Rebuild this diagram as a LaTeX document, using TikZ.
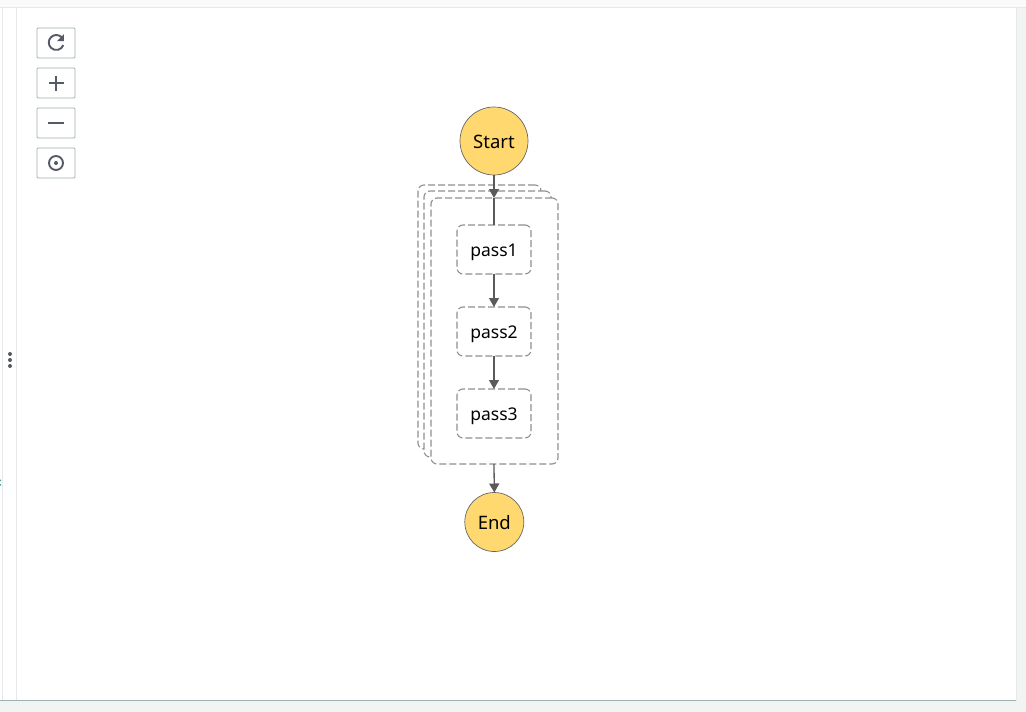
\documentclass[tikz,border=0pt]{standalone}
\usepackage{fontspec}
\setmainfont{Noto Sans}
\usetikzlibrary{arrows.meta}
\definecolor{gold}{HTML}{FFD970}
\definecolor{icon}{HTML}{545B64}
\definecolor{btn}{HTML}{9FB0B1}
\definecolor{dashc}{HTML}{8F8F8F}
\definecolor{wire}{HTML}{5A5A5A}
\definecolor{pane}{HTML}{F2F3F3}
\definecolor{topband}{HTML}{FAFAFA}
\definecolor{rule}{HTML}{E6E9EA}
\definecolor{speck}{HTML}{4F9A94}
\newcommand{\lowered}[2]{\raisebox{-#1}[\height][\depth]{#2}}
\tikzset{
  every node/.style={inner sep=0pt,outer sep=0pt},
  terminal/.style={circle,draw=black!60,line width=.7pt,fill=gold,font=\fontsize{18.5}{20}\selectfont,text=black},
  statebox/.style={rectangle,rounded corners=6pt,draw=dashc,line width=1.1pt,dash pattern=on 7pt off 3pt,fill=white,minimum width=74pt,minimum height=49pt,font=\fontsize{17.5}{20}\selectfont,text=black},
  groupbox/.style={rectangle,rounded corners=6pt,draw=dashc,line width=1.1pt,dash pattern=on 7pt off 3pt,fill=white},
  toolbtn/.style={rectangle,rounded corners=1pt,draw=btn,line width=.9pt,fill=white,minimum width=38pt,minimum height=30pt},
  wirearrow/.style={draw=wire,line width=1.3pt,-{Triangle[length=9pt,width=10pt]}},
  wireplain/.style={draw=wire,line width=1.3pt},
  iconline/.style={draw=icon,line width=1.9pt}
}
\begin{document}
\begin{tikzpicture}[x=1pt,y=-1pt]
\useasboundingbox (0,0) rectangle (1026,712);
% window panes
\fill[pane] (0,0) rectangle (1026,712);
\fill[topband] (0,0) rectangle (1026,7);
\fill[white] (0,8) rectangle (1016,700);
\fill[rule] (0,7) rectangle (1026,8);
\fill[rule] (2,8) rectangle (3,700);
\fill[rule] (16,8) rectangle (17,700);
\fill[rule] (1016,8) rectangle (1017,701);
\fill[btn] (0,700) rectangle (1016,701.3);
\fill[speck] (0,479.5) rectangle (1,481) (0,484) rectangle (1,485.5);
% toolbar
\node[toolbtn] (reset) at (56,43) {};
\node[toolbtn] (plus) at (56,83) {};
\node[toolbtn] (minus) at (56,123) {};
\node[toolbtn] (center) at (56,163) {};
\draw[iconline] (61.6,37.2) arc (-45:-340:7.5);
\fill[icon] (63.8,34.4) -- (63.8,41.2) -- (57,41.2) -- cycle;
\draw[iconline] (48.5,83) -- (63.5,83) (56,75.5) -- (56,90.5);
\draw[iconline] (48,123) -- (64,123);
\draw[iconline] (56,163) circle (7);
\fill[icon] (56,163) circle (2);
% sash handle
\fill[icon] (10,354) circle (2) (10,360) circle (2) (10,366) circle (2);
% stacked iterations
\node[groupbox,minimum width=123pt,minimum height=264pt] (backa) at (479.5,317) {};
\node[groupbox,minimum width=127pt,minimum height=266pt] (backb) at (487.5,324) {};
\node[groupbox,minimum width=127pt,minimum height=266pt] (front) at (494.5,331) {};
% states
\node[terminal,minimum size=68pt] (start) at (494,141) {\lowered{1pt}{Start}};
\node[terminal,minimum size=59pt] (end) at (494.3,522) {\lowered{1pt}{End}};
\node[statebox] (pass1) at (494,249.5) {\lowered{3pt}{pass1}};
\node[statebox] (pass2) at (494,331.5) {\lowered{3pt}{pass2}};
\node[statebox] (pass3) at (494,413.5) {\lowered{3pt}{pass3}};
% connectors
\draw[wirearrow] (start.south) -- (start.south |- front.north);
\draw[wireplain] (start.south |- front.north) -- (pass1.north);
\draw[wirearrow] (pass1) -- (pass2);
\draw[wirearrow] (pass2) -- (pass3);
\draw[wirearrow] (pass3.south |- front.south) -- (end.north);
\end{tikzpicture}
\end{document}
